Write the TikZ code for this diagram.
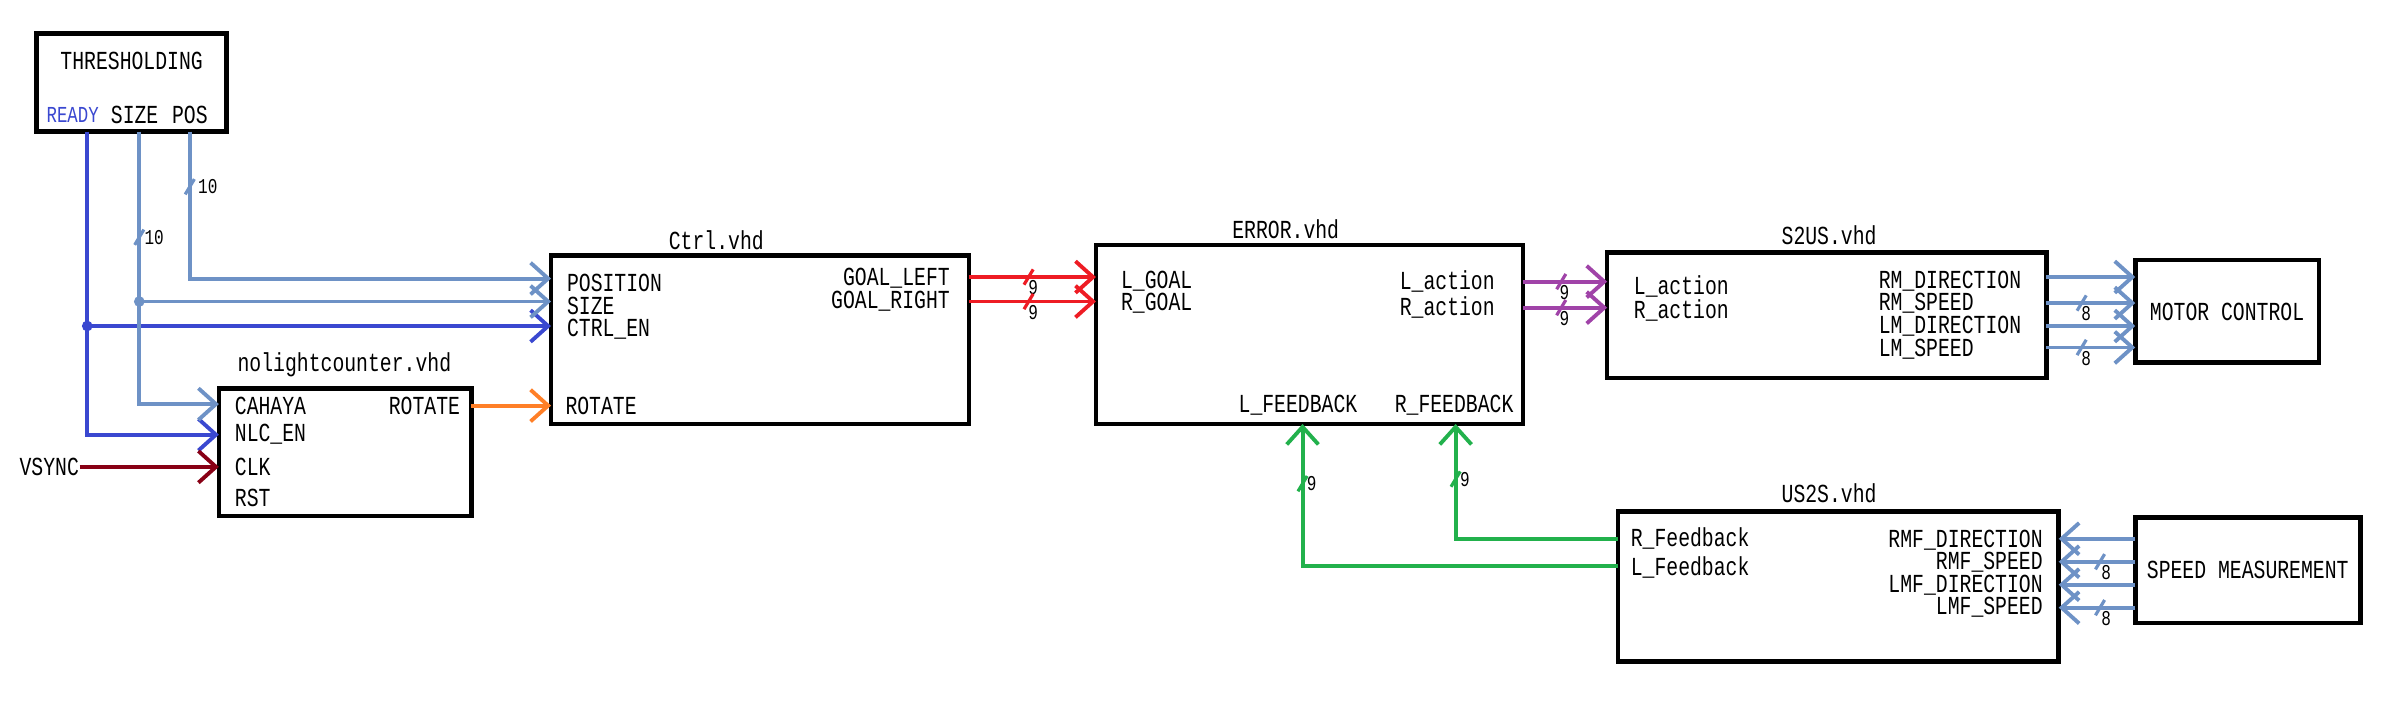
\documentclass[tikz,border=0pt]{standalone}
\usepackage{fontspec}
\setmonofont[FakeStretch=0.76]{Liberation Mono}
\usetikzlibrary{arrows.meta}
\definecolor{rdy}{HTML}{3A48D0}
\definecolor{bus}{HTML}{6E92C6}
\definecolor{rd}{HTML}{EE1C24}
\definecolor{pu}{HTML}{A043A8}
\definecolor{gr}{HTML}{22B14C}
\definecolor{orng}{HTML}{FF7F27}
\definecolor{drd}{HTML}{880015}
\begin{document}
\begin{tikzpicture}[x=0.01531cm,y=-0.01531cm,
  font=\ttfamily\fontsize{7.4}{8}\selectfont,
  box/.style={draw,line width=1.3pt,inner sep=0},
  w/.style={line width=1.1pt,-{Straight Barb[length=5pt,width=9pt]}},
  t/.style={anchor=west,inner sep=0},
  tr/.style={anchor=east,inner sep=0},
  tick/.style={line width=0.9pt},
  tl/.style={font=\ttfamily\fontsize{6}{7}\selectfont,inner sep=0}]
\useasboundingbox (0,0) rectangle (1568,468);
% boxes
\node[box,minimum width=124*0.01531cm,minimum height=64*0.01531cm] (th) at (86,54) {};
\node[box,minimum width=273*0.01531cm,minimum height=110*0.01531cm] (ctrl) at (496.5,222) {};
\node[box,minimum width=165*0.01531cm,minimum height=83*0.01531cm] (nlc) at (225.5,295.5) {};
\node[box,minimum width=279*0.01531cm,minimum height=117*0.01531cm] (err) at (855.5,218.5) {};
\node[box,minimum width=287*0.01531cm,minimum height=82*0.01531cm] (s2us) at (1193.5,206) {};
\node[box,minimum width=120*0.01531cm,minimum height=67*0.01531cm] (mc) at (1455,203.5) {MOTOR CONTROL};
\node[box,minimum width=288*0.01531cm,minimum height=98*0.01531cm] (us2s) at (1201,383) {};
\node[box,minimum width=147*0.01531cm,minimum height=69*0.01531cm] (sm) at (1468.5,372.5) {SPEED MEASUREMENT};
% titles
\node (tht) at (86,40) {THRESHOLDING};
\node[t,text=rdy] (rdyt) at (30,75) {\fontsize{6.5}{7}\selectfont READY};
\node[t] (sizet) at (72,75) {SIZE};
\node[t] (post) at (112,75) {POS};
\node (ctrlt) at (468,157) {Ctrl.vhd};
\node (nlct) at (225,238) {nolightcounter.vhd};
\node (errt) at (840,150) {ERROR.vhd};
\node (s2ust) at (1195,154) {S2US.vhd};
\node (us2st) at (1195,322) {US2S.vhd};
% port labels
\node[t] at (370,185) {POSITION};
\node[t] at (370,200) {SIZE};
\node[t] at (370,215) {CTRL\_EN};
\node[t] at (369,265) {ROTATE};
\node[tr] at (621,182) {GOAL\_LEFT};
\node[tr] at (621,197) {GOAL\_RIGHT};
\node[t] at (153,265) {CAHAYA};
\node[t] at (153,284) {NLC\_EN};
\node[t] at (153,305) {CLK};
\node[t] at (153,325) {RST};
\node[tr] at (301,265) {ROTATE};
\node[tr] (vs) at (52,305) {VSYNC};
\node[t] at (732,184) {L\_GOAL};
\node[t] at (732,198) {R\_GOAL};
\node[tr] at (977,184) {L\_action};
\node[tr] at (977,201) {R\_action};
\node at (848,265) {L\_FEEDBACK};
\node at (950,265) {R\_FEEDBACK};
\node[t] at (1067,187) {L\_action};
\node[t] at (1067,203) {R\_action};
\node[t] at (1227,184) {RM\_DIRECTION};
\node[t] at (1227,198) {RM\_SPEED};
\node[t] at (1227,213) {LM\_DIRECTION};
\node[t] at (1227,228) {LM\_SPEED};
\node[t] at (1065,352) {R\_Feedback};
\node[t] at (1065,371) {L\_Feedback};
\node[tr] at (1335,353) {RMF\_DIRECTION};
\node[tr] at (1335,367) {RMF\_SPEED};
\node[tr] at (1335,382) {LMF\_DIRECTION};
\node[tr] at (1335,397) {LMF\_SPEED};
% coordinates
\coordinate (rdyb) at (57,86);
\coordinate (sizeb) at (91,86);
\coordinate (posb) at (124,86);
\coordinate (d1) at (57,213);
\coordinate (d2) at (91,197);
% thresholding wires
\draw[w,rdy] (rdyb) |- (143,284);
\draw[w,rdy] (d1) -- (360,213);
\fill[rdy] (d1) circle (3.5);
\draw[w,bus] (sizeb) |- (143,264);
\draw[w,bus] (d2) -- (360,197);
\fill[bus] (d2) circle (3.5);
\draw[w,bus] (posb) |- (360,182);
\draw[tick,bus] (121,127) -- (127,117); \node[tl,anchor=west] at (129,122) {10};
\draw[tick,bus] (88,160) -- (94,150); \node[tl,anchor=west] at (94,155) {10};
\draw[w,orng] (308,265) -- (360,265);
\draw[w,drd] (vs.east) -- (143,305);
% ctrl -> error
\draw[w,rd] (633,181) -- (716,181);
\draw[w,rd] (633,197) -- (716,197);
\draw[tick,rd] (669,186) -- (675,176); \node[tl] at (675,188) {9};
\draw[tick,rd] (669,202) -- (675,192); \node[tl] at (675,204) {9};
% error -> s2us
\draw[w,pu] (995,184) -- (1050,184);
\draw[w,pu] (995,201) -- (1050,201);
\draw[tick,pu] (1017,189) -- (1023,179); \node[tl] at (1022,191) {9};
\draw[tick,pu] (1017,206) -- (1023,196); \node[tl] at (1022,208) {9};
% s2us -> motor control
\foreach \y in {181,198,213,227} \draw[w,bus] (1337,\y) -- (1395,\y);
\draw[tick,bus] (1357,203) -- (1363,193); \node[tl] at (1363,205) {8};
\draw[tick,bus] (1357,232) -- (1363,222); \node[tl] at (1363,234) {8};
% speed measurement -> us2s
\foreach \y in {352,367,382,397} \draw[w,bus] (1395,\y) -- (1345,\y);
\draw[tick,bus] (1369,372) -- (1375,362); \node[tl] at (1376,374) {8};
\draw[tick,bus] (1369,402) -- (1375,392); \node[tl] at (1376,404) {8};
% green feedback
\draw[w,gr] (1057,352) -| (951,277);
\draw[w,gr] (1057,370) -| (851,277);
\draw[tick,gr] (948,318) -- (954,308); \node[tl] at (957,313) {9};
\draw[tick,gr] (848,321) -- (854,311); \node[tl] at (857,316) {9};
\end{tikzpicture}
\end{document}
